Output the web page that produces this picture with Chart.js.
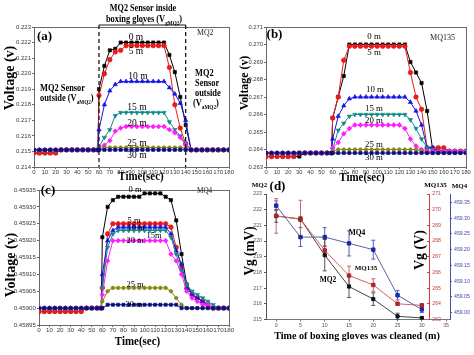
<!DOCTYPE html>
<html><head><meta charset="utf-8">
<script src="https://cdn.jsdelivr.net/npm/chart.js@4.4.1/dist/chart.umd.min.js"></script>
<style>
html,body{margin:0;padding:0;background:#fff;}
#wrap{position:relative;width:474px;height:355px;overflow:hidden;background:#fff;}
canvas{position:absolute;left:0;top:0;}
</style></head><body>
<div id="wrap">
<canvas id="ca" width="474" height="355"></canvas>
<canvas id="cb" width="474" height="355"></canvas>
<canvas id="cc" width="474" height="355"></canvas>
<canvas id="cd" width="474" height="355"></canvas>
</div>
<script>
// ---------- DATA ----------
const cleanLabels = ['0 m','5 m','10 m','15 m','20 m','25 m','30 m'];
const timeSec = [0,5,10,15,20,25,30,35,40,45,50,55,59,60,65,70,75,80,85,90,95,100,105,110,115,120,125,130,135,140,145,150,155,160,165,170,175,180];
const timeTicks = [0,10,20,30,40,50,60,70,80,90,100,110,120,130,140,150,160,170,180];

// (a) MQ2 voltage (V)
const mq2_0m = [0.2149,0.2149,0.2149,0.2149,0.2149,0.2151,0.2151,0.2151,0.2151,0.2151,0.2151,0.2151,0.2151,0.2190,0.2205,0.2215,0.2216,0.2220,0.2220,0.2220,0.2220,0.2220,0.2220,0.2220,0.2220,0.2220,0.2212,0.2201,0.2185,0.2167,0.2151,0.2151,0.2151,0.2151,0.2151,0.2151,0.2151,0.2151];
const mq2_5m = [0.2149,0.2149,0.2149,0.2149,0.2149,0.2151,0.2151,0.2151,0.2151,0.2151,0.2151,0.2151,0.2151,0.2186,0.2200,0.2209,0.2214,0.2215,0.2218,0.2218,0.2218,0.2218,0.2218,0.2218,0.2218,0.2218,0.2204,0.2180,0.2165,0.2155,0.2151,0.2151,0.2151,0.2151,0.2151,0.2151,0.2151,0.2151];
const mq2_10m = [0.2151,0.2151,0.2151,0.2151,0.2151,0.2151,0.2151,0.2151,0.2151,0.2151,0.2151,0.2151,0.2151,0.2164,0.2180,0.2189,0.2193,0.2195,0.2195,0.2195,0.2195,0.2195,0.2195,0.2195,0.2195,0.2195,0.2191,0.2187,0.2181,0.2170,0.2151,0.2151,0.2151,0.2151,0.2151,0.2151,0.2151,0.2151];
const mq2_15m = [0.2151,0.2151,0.2151,0.2151,0.2151,0.2151,0.2151,0.2151,0.2151,0.2151,0.2151,0.2151,0.2151,0.2153,0.2159,0.2164,0.2173,0.2175,0.2175,0.2175,0.2175,0.2175,0.2175,0.2175,0.2175,0.2175,0.2169,0.2164,0.2160,0.2155,0.2151,0.2151,0.2151,0.2151,0.2151,0.2151,0.2151,0.2151];
const mq2_20m = [0.2151,0.2151,0.2151,0.2151,0.2151,0.2151,0.2151,0.2151,0.2151,0.2151,0.2151,0.2151,0.2151,0.2152,0.2154,0.2157,0.2163,0.2165,0.2166,0.2166,0.2166,0.2166,0.2166,0.2166,0.2166,0.2166,0.2164,0.2162,0.2159,0.2154,0.2151,0.2151,0.2151,0.2151,0.2151,0.2151,0.2151,0.2151];
const mq2_25m = [0.2151,0.2151,0.2151,0.2151,0.2151,0.2151,0.2151,0.2151,0.2151,0.2151,0.2151,0.2151,0.2151,0.2151,0.21525,0.21525,0.21525,0.21525,0.21525,0.21525,0.21525,0.21525,0.21525,0.21525,0.21525,0.21525,0.21525,0.21525,0.21525,0.2152,0.2151,0.2151,0.2151,0.2151,0.2151,0.2151,0.2151,0.2151];
const mq2_30m = [0.2151,0.2151,0.2151,0.2151,0.2151,0.2151,0.2151,0.2151,0.2151,0.2151,0.2151,0.2151,0.2151,0.2151,0.2151,0.2151,0.2151,0.2151,0.2151,0.2151,0.2151,0.2151,0.2151,0.2151,0.2151,0.2151,0.2151,0.2151,0.2151,0.2151,0.2151,0.2151,0.2151,0.2151,0.2151,0.2151,0.2151,0.2151];
const mq2Ticks = [0.214,0.215,0.216,0.217,0.218,0.219,0.220,0.221,0.222,0.223];

// (b) MQ135 voltage (V)
const mq135_0m = [0.2636,0.2636,0.2636,0.2636,0.2636,0.2636,0.2636,0.2638,0.2638,0.2638,0.2638,0.2638,0.2638,0.2658,0.2670,0.2682,0.2700,0.2700,0.2700,0.2700,0.2700,0.2700,0.2700,0.2700,0.2700,0.2700,0.2700,0.2690,0.2684,0.2678,0.2662,0.2640,0.2640,0.2639,0.2639,0.2639,0.2639,0.2639];
const mq135_5m = [0.2636,0.2636,0.2636,0.2636,0.2636,0.2636,0.2638,0.2638,0.2638,0.2638,0.2638,0.2638,0.2638,0.2658,0.2670,0.2691,0.2699,0.2699,0.2699,0.2699,0.2699,0.2699,0.2699,0.2699,0.2699,0.2699,0.2699,0.2684,0.2670,0.2663,0.2641,0.2641,0.2641,0.2641,0.2639,0.2639,0.2639,0.2639];
const mq135_10m = [0.2638,0.2638,0.2638,0.2638,0.2638,0.2638,0.2638,0.2638,0.2638,0.2638,0.2638,0.2638,0.2638,0.2646,0.2659,0.2665,0.2669,0.2670,0.2670,0.2670,0.2670,0.2670,0.2670,0.2670,0.2670,0.2670,0.2670,0.2667,0.2662,0.2654,0.2641,0.2641,0.2639,0.2639,0.2639,0.2639,0.2639,0.2639];
const mq135_15m = [0.2638,0.2638,0.2638,0.2638,0.2638,0.2638,0.2638,0.2638,0.2638,0.2638,0.2638,0.2638,0.2638,0.2640,0.2651,0.2655,0.2659,0.2660,0.2660,0.2660,0.2660,0.2660,0.2660,0.2660,0.2660,0.2660,0.2660,0.2657,0.2652,0.2646,0.2641,0.2640,0.2639,0.2639,0.2639,0.2639,0.2639,0.2639];
const mq135_20m = [0.2638,0.2638,0.2638,0.2638,0.2638,0.2638,0.2638,0.2638,0.2638,0.2638,0.2638,0.2638,0.2638,0.2641,0.2644,0.2649,0.2652,0.2654,0.2654,0.2654,0.2654,0.2654,0.2654,0.2654,0.2654,0.2654,0.2652,0.2646,0.2642,0.2640,0.2639,0.2639,0.2639,0.2639,0.2639,0.2639,0.2639,0.2639];
const mq135_25m = [0.2638,0.2638,0.2638,0.2638,0.2638,0.2638,0.2638,0.2638,0.2638,0.2638,0.2638,0.2638,0.2638,0.2639,0.2640,0.2640,0.2640,0.2640,0.2640,0.2640,0.2640,0.2640,0.2640,0.2640,0.2640,0.2640,0.2640,0.2640,0.2640,0.2639,0.2638,0.2638,0.2638,0.2638,0.2638,0.2638,0.2638,0.2638];
const mq135_30m = [0.2638,0.2638,0.2638,0.2638,0.2638,0.2638,0.2638,0.2638,0.2638,0.2638,0.2638,0.2638,0.2638,0.2638,0.2638,0.2638,0.2638,0.2638,0.2638,0.2638,0.2638,0.2638,0.2638,0.2638,0.2638,0.2638,0.2638,0.2638,0.2638,0.2638,0.2638,0.2638,0.2638,0.2638,0.2638,0.2638,0.2638,0.2638];
const mq135Ticks = [0.263,0.264,0.265,0.266,0.267,0.268,0.269,0.270,0.271];

// (c) MQ4 voltage (V)
const mq4_0m = [0.45899,0.45899,0.45899,0.45899,0.45899,0.45899,0.45899,0.45899,0.45899,0.45900,0.45900,0.45900,0.45900,0.45921,0.45930,0.45932,0.45933,0.45933,0.45933,0.45933,0.45933,0.45934,0.45934,0.45934,0.45934,0.45933,0.45932,0.45926,0.45916,0.45907,0.45904,0.45903,0.45902,0.45901,0.45900,0.45900,0.45900,0.45900];
const mq4_5m = [0.45899,0.45899,0.45899,0.45899,0.45899,0.45899,0.45899,0.45899,0.45899,0.45900,0.45900,0.45900,0.45900,0.45906,0.45922,0.45925,0.45925,0.45925,0.45925,0.45925,0.45925,0.45925,0.45925,0.45925,0.45925,0.45925,0.45924,0.45918,0.45912,0.45906,0.45904,0.45903,0.45902,0.45901,0.45900,0.45900,0.45900,0.45900];
const mq4_10m = [0.45900,0.45900,0.45900,0.45900,0.45900,0.45900,0.45900,0.45900,0.45900,0.45900,0.45900,0.45900,0.45900,0.45910,0.45920,0.45923,0.45924,0.45924,0.45924,0.45924,0.45924,0.45924,0.45924,0.45924,0.45924,0.45924,0.45922,0.45917,0.45913,0.45906,0.45904,0.45903,0.45902,0.45901,0.45900,0.45900,0.45900,0.45900];
const mq4_15m = [0.45900,0.45900,0.45900,0.45900,0.45900,0.45900,0.45900,0.45900,0.45900,0.45900,0.45900,0.45900,0.45900,0.45906,0.45918,0.45922,0.45923,0.45923,0.45923,0.45923,0.45923,0.45923,0.45923,0.45923,0.45923,0.45923,0.45921,0.45916,0.45911,0.45907,0.45905,0.45904,0.45903,0.45902,0.45901,0.45900,0.45900,0.45900];
const mq4_20m = [0.45900,0.45900,0.45900,0.45900,0.45900,0.45900,0.45900,0.45900,0.45900,0.45900,0.45900,0.45900,0.45900,0.45904,0.45914,0.45920,0.45920,0.45920,0.45920,0.45920,0.45920,0.45920,0.45920,0.45920,0.45920,0.45920,0.45916,0.45914,0.45910,0.45905,0.45903,0.45902,0.45901,0.45901,0.45900,0.45900,0.45900,0.45900];
const mq4_25m = [0.45900,0.45900,0.45900,0.45900,0.45900,0.45900,0.45900,0.45900,0.45900,0.45900,0.45900,0.45900,0.45900,0.45902,0.45905,0.45906,0.45906,0.45906,0.45906,0.45906,0.45906,0.45906,0.45906,0.45906,0.45906,0.45906,0.45905,0.45903,0.45901,0.45900,0.45900,0.45900,0.45900,0.45900,0.45900,0.45900,0.45900,0.45900];
const mq4_30m = [0.45900,0.45900,0.45900,0.45900,0.45900,0.45900,0.45900,0.45900,0.45900,0.45900,0.45900,0.45900,0.45900,0.45900,0.45901,0.45901,0.45901,0.45901,0.45901,0.45901,0.45901,0.45901,0.45901,0.45901,0.45901,0.45901,0.45901,0.45901,0.45900,0.45900,0.45900,0.45900,0.45900,0.45900,0.45900,0.45900,0.45900,0.45900];
const mq4Ticks = [0.45895,0.45900,0.45905,0.45910,0.45915,0.45920,0.45925,0.45930,0.45935];

// (d) Vg versus cleaning time
const cleanTime = [0,5,10,15,20,25,30];
const cleanTicks = [0,5,10,15,20,25,30,35];
const vgMQ2 = [221.6,221.4,219.1,217.1,216.3,215.2,215.1];
const vgMQ2Err = [0.4,0.15,1.0,0.7,0.4,0.2,0.05];
const vgMQ135 = [269.6,269.4,267.4,265.8,265.2,264.0,263.9];
const vgMQ135Err = [1.1,1.2,0.3,0.6,0.4,0.1,0.1];
const vgMQ4 = [459.34,459.24,459.24,459.22,459.20,459.055,459.01];
const vgMQ4Err = [0.015,0.03,0.03,0.04,0.03,0.015,0.01];
const vgMQ2Ticks = [215,216,217,218,219,220,221,222,223];
const vgMQ135Ticks = [263,264,265,266,267,268,269,270,271];
const vgMQ4Ticks = [459.00,459.05,459.10,459.15,459.20,459.25,459.30,459.35];

// ---------- STYLE ----------
const colors = ['#000000','#e81a1a','#1414e8','#128a8a','#ff1cff','#888810','#0a0a86'];
const shapes = ['rect','circle','triangle','triangle','rectRot','circle','rect'];
const rots = [0,0,0,180,0,0,0];
const radii = [2.3,2.3,2.5,2.5,2.4,1.8,2.2];
const SERIF = '"Liberation Serif","DejaVu Serif",serif';
const SANS = '"Liberation Sans",Arial,sans-serif';
const W = 474, H = 355;

function drawText(ctx, s, x, y, o) {
  ctx.save();
  ctx.translate(x, y);
  if (o.rot) ctx.rotate(o.rot);
  ctx.scale(o.sx || 1, 1);
  ctx.font = (o.b ? 'bold ' : '') + o.size + 'px ' + SERIF;
  ctx.fillStyle = o.color || '#000';
  ctx.textAlign = o.align || 'center';
  ctx.textBaseline = 'middle';
  ctx.fillText(s, 0, 0);
  ctx.restore();
}
function drawRich(ctx, parts, x, y, o) {
  ctx.save();
  ctx.translate(x, y);
  ctx.scale(o.sx || 1, 1);
  ctx.textBaseline = 'alphabetic';
  ctx.fillStyle = o.color || '#000';
  const fnt = (sub) => (o.b ? 'bold ' : '') + (sub ? o.size * 0.62 : o.size) + 'px ' + SERIF;
  let total = 0;
  parts.forEach(p => { ctx.font = fnt(p[1]); total += ctx.measureText(p[0]).width; });
  let cx = (o.align === 'left') ? 0 : -total / 2;
  const base = o.size * 0.33;
  parts.forEach(p => {
    ctx.font = fnt(p[1]);
    ctx.textAlign = 'left';
    ctx.fillText(p[0], cx, base + (p[1] ? o.size * 0.22 : 0));
    cx += ctx.measureText(p[0]).width;
  });
  ctx.restore();
}

const framePlugin = {
  id: 'frame',
  beforeDatasetsDraw(chart) {
    const {ctx, chartArea: a} = chart;
    ctx.save();
    ctx.strokeStyle = '#6a6a6a';
    ctx.lineWidth = 1;
    ctx.strokeRect(Math.round(a.left) + 0.5, Math.round(a.top) + 0.5, Math.round(a.right - a.left), Math.round(a.bottom - a.top));
    ctx.restore();
  }
};

function textPlugin(items, extra) {
  return {
    id: 'texts',
    afterDraw(chart) {
      const ctx = chart.ctx;
      if (extra) extra(chart);
      items.forEach(it => {
        if (it.rich) drawRich(ctx, it.rich, it.x, it.y, it);
        else drawText(ctx, it.t, it.x, it.y, it);
      });
    }
  };
}

function timeChart(id, series, yTicks, yDec, rect, yW, texts, extra, tickSize) {
  const datasets = [];
  for (let k = series.length - 1; k >= 0; k--) {
    datasets.push({
      label: cleanLabels[k],
      data: timeSec.map((t, i) => ({x: t, y: series[k][i]})),
      borderColor: colors[k],
      backgroundColor: colors[k],
      borderWidth: 1,
      pointStyle: shapes[k],
      pointRotation: rots[k],
      pointRadius: radii[k],
      pointBorderWidth: 0.6,
      pointBackgroundColor: colors[k],
      pointBorderColor: colors[k],
      tension: 0
    });
  }
  const tickFont = {size: tickSize || 6, family: SANS};
  return new Chart(document.getElementById(id), {
    type: 'line',
    data: {datasets},
    options: {
      responsive: false, animation: false, devicePixelRatio: 1,
      layout: {padding: {left: rect.l - yW, top: rect.t, right: W - rect.r, bottom: H - rect.b - 12}},
      plugins: {legend: {display: false}, tooltip: {enabled: false}},
      scales: {
        x: {
          type: 'linear', min: 0, max: 180,
          afterBuildTicks: s => { s.ticks = timeTicks.map(v => ({value: v})); },
          afterFit: s => { s.height = 12; },
          ticks: {font: tickFont, color: '#3a3a3a', padding: 0, maxRotation: 0, minRotation: 0, autoSkip: false, callback: v => String(v)},
          grid: {drawOnChartArea: false, tickLength: 2, color: '#666'},
          border: {display: false}
        },
        y: {
          type: 'linear', min: yTicks[0], max: yTicks[yTicks.length - 1],
          afterBuildTicks: s => { s.ticks = yTicks.map(v => ({value: v})); },
          afterFit: s => { s.width = yW; },
          ticks: {font: tickFont, color: '#3a3a3a', padding: 1, callback: v => Number(v).toFixed(yDec)},
          grid: {drawOnChartArea: false, tickLength: 2, color: '#666'},
          border: {display: false}
        }
      }
    },
    plugins: [framePlugin, textPlugin(texts, extra)]
  });
}

// ---------- (a) ----------
const curveA = 9.5;
timeChart('ca', [mq2_0m, mq2_5m, mq2_10m, mq2_15m, mq2_20m, mq2_25m, mq2_30m], mq2Ticks, 3,
  {l: 34, t: 27, r: 229, b: 167}, 34, [
  {t: 'MQ2 Sensor inside', x: 143, y: 8, size: 10.5, b: 1, sx: 0.78},
  {rich: [['boxing gloves (V', 0], ['gMQ2', 1], [')', 0]], x: 144, y: 19, size: 10.5, b: 1, sx: 0.8},
  {t: '(a)', x: 44.5, y: 37, size: 13, b: 1},
  {t: 'MQ2', x: 197, y: 33, size: 8.5, align: 'left', sx: 0.92, color: '#222'},
  {t: 'MQ2 Sensor', x: 40, y: 88, size: 10, b: 1, sx: 0.84, align: 'left'},
  {rich: [['outside (V', 0], ['aMQ2', 1], [')', 0]], x: 40, y: 98, size: 10, b: 1, sx: 0.84, align: 'left'},
  {t: 'MQ2', x: 195, y: 73, size: 10, b: 1, sx: 0.84, align: 'left'},
  {t: 'Sensor', x: 195, y: 83, size: 10, b: 1, sx: 0.84, align: 'left'},
  {t: 'outside', x: 195, y: 93, size: 10, b: 1, sx: 0.84, align: 'left'},
  {rich: [['(V', 0], ['aMQ2', 1], [')', 0]], x: 193, y: 103, size: 10, b: 1, sx: 0.84, align: 'left'},
  {t: '0 m', x: 136, y: 37, size: curveA},
  {t: '5 m', x: 136, y: 51, size: curveA},
  {t: '10 m', x: 138, y: 76, size: curveA},
  {t: '15 m', x: 137, y: 107, size: curveA},
  {t: '20 m', x: 137, y: 123, size: curveA},
  {t: '25 m', x: 137, y: 143, size: curveA},
  {t: '30 m', x: 137, y: 155, size: curveA},
  {t: 'Voltage (v)', x: 10, y: 78, size: 14, b: 1, rot: -Math.PI / 2},
  {t: 'Time(sec)', x: 141, y: 177, size: 13, b: 1, sx: 0.84}
], (chart) => {
  const ctx = chart.ctx, xs = chart.scales.x;
  const x1 = xs.getPixelForValue(60), x2 = xs.getPixelForValue(140);
  ctx.save();
  ctx.strokeStyle = '#1a1a1a';
  ctx.lineWidth = 1.3;
  ctx.setLineDash([4, 3]);
  [x1, x2].forEach(x => { ctx.beginPath(); ctx.moveTo(x, 25); ctx.lineTo(x, chart.chartArea.bottom); ctx.stroke(); });
  ctx.setLineDash([]);
  ctx.lineWidth = 1;
  ctx.beginPath(); ctx.moveTo(x1, 25); ctx.lineTo(x2, 25); ctx.stroke();
  ctx.beginPath(); ctx.moveTo(143, 25); ctx.lineTo(143, 21.5); ctx.stroke();
  ctx.restore();
});

// ---------- (b) ----------
const curveB = 8.8;
timeChart('cb', [mq135_0m, mq135_5m, mq135_10m, mq135_15m, mq135_20m, mq135_25m, mq135_30m], mq135Ticks, 3,
  {l: 266, t: 27, r: 466, b: 167}, 30, [
  {t: '(b)', x: 274.5, y: 35, size: 13, b: 1},
  {t: 'MQ135', x: 430, y: 38, size: 8.5, align: 'left', sx: 0.95, color: '#222'},
  {t: '0 m', x: 374, y: 37, size: curveB},
  {t: '5 m', x: 374, y: 53, size: curveB},
  {t: '10 m', x: 375, y: 90, size: curveB},
  {t: '15 m', x: 374, y: 109, size: curveB},
  {t: '20 m', x: 374, y: 121, size: curveB},
  {t: '25 m', x: 374, y: 145, size: curveB},
  {t: '30 m', x: 374, y: 158, size: curveB},
  {t: 'Voltage (v)', x: 244.5, y: 83, size: 12.5, b: 1, rot: -Math.PI / 2, sx: 0.95},
  {t: 'Time(sec)', x: 362, y: 178, size: 13, b: 1, sx: 0.84}
], null, 5.8);

// ---------- (c) ----------
const curveC = 8.5;
timeChart('cc', [mq4_0m, mq4_5m, mq4_10m, mq4_15m, mq4_20m, mq4_25m, mq4_30m], mq4Ticks, 5,
  {l: 39, t: 190, r: 229, b: 325}, 39, [
  {t: '(c)', x: 48, y: 191, size: 13, b: 1},
  {t: 'MQ4', x: 197, y: 191, size: 8, align: 'left', sx: 0.9, color: '#222'},
  {t: '0 m', x: 135, y: 190, size: curveC},
  {t: '5 m', x: 134, y: 221, size: curveC},
  {t: '10 m', x: 136, y: 228, size: curveC},
  {t: '15m', x: 154, y: 236, size: curveC},
  {t: '20 m', x: 135, y: 241, size: curveC},
  {t: '25 m', x: 135, y: 285, size: curveC},
  {t: '30 m', x: 134, y: 305, size: curveC},
  {t: 'Voltage (v)', x: 11, y: 265, size: 14, b: 1, rot: -Math.PI / 2},
  {t: 'Time(sec)', x: 137.5, y: 342, size: 13, b: 1, sx: 0.84}
], null, 6.2);

// ---------- (d) ----------
const errPlugin = {
  id: 'errbars',
  beforeDatasetsDraw(chart) {
    const ctx = chart.ctx, xs = chart.scales.x;
    chart.data.datasets.forEach(ds => {
      const ys = chart.scales[ds.yAxisID];
      ctx.save();
      ctx.strokeStyle = ds.errColor;
      ctx.lineWidth = 1;
      ds.data.forEach((p, i) => {
        const e = ds.errorBars[i];
        const x = xs.getPixelForValue(p.x);
        const y1 = ys.getPixelForValue(p.y - e), y2 = ys.getPixelForValue(p.y + e);
        ctx.beginPath();
        ctx.moveTo(x, y1); ctx.lineTo(x, y2);
        ctx.moveTo(x - 2, y1); ctx.lineTo(x + 2, y1);
        ctx.moveTo(x - 2, y2); ctx.lineTo(x + 2, y2);
        ctx.stroke();
      });
      ctx.restore();
    });
  }
};
// labels of the inner (red) axis, placed to the right of its axis line
const redAxisLabels = {
  id: 'redAxisLabels',
  afterDraw(chart) {
    const ctx = chart.ctx, ys = chart.scales.yR;
    const ax = chart.scales.x.getPixelForValue(31.64);
    ctx.save();
    ctx.font = '5.2px ' + SANS;
    ctx.fillStyle = '#c03a3a';
    ctx.textAlign = 'left';
    ctx.textBaseline = 'middle';
    ys.ticks.forEach(t => ctx.fillText(String(t.value), ax + 2.5, ys.getPixelForValue(t.value)));
    ctx.restore();
  }
};
const dFont = {size: 5.2, family: SANS};
new Chart(document.getElementById('cd'), {
  type: 'line',
  data: {datasets: [
    {label: 'MQ4', yAxisID: 'yB', data: cleanTime.map((t, i) => ({x: t, y: vgMQ4[i]})), errorBars: vgMQ4Err, errColor: '#5560b8',
     borderColor: '#56649a', borderWidth: 1, pointStyle: 'rect', pointRadius: 2.4, pointBackgroundColor: '#1a28b0', pointBorderColor: '#1a28b0', tension: 0},
    {label: 'MQ135', yAxisID: 'yR', data: cleanTime.map((t, i) => ({x: t, y: vgMQ135[i]})), errorBars: vgMQ135Err, errColor: '#c86a6a',
     borderColor: '#d26060', borderWidth: 1, pointStyle: 'rect', pointRadius: 2.4, pointBackgroundColor: '#b42222', pointBorderColor: '#b42222', tension: 0},
    {label: 'MQ2', yAxisID: 'y', data: cleanTime.map((t, i) => ({x: t, y: vgMQ2[i]})), errorBars: vgMQ2Err, errColor: '#555',
     borderColor: '#444', borderWidth: 1, pointStyle: 'rect', pointRadius: 2.2, pointBackgroundColor: '#111', pointBorderColor: '#111', tension: 0}
  ]},
  options: {
    responsive: false, animation: false, devicePixelRatio: 1,
    layout: {padding: {left: 236, top: 194, right: 2, bottom: 23.5}},
    plugins: {legend: {display: false}, tooltip: {enabled: false}},
    scales: {
      x: {
        type: 'linear', min: -2.1, max: 35.8,
        afterBuildTicks: s => { s.ticks = cleanTicks.map(v => ({value: v})); },
        afterFit: s => { s.height = 12; },
        ticks: {font: dFont, color: '#555', padding: 1, maxRotation: 0, autoSkip: false, callback: v => String(v)},
        grid: {drawOnChartArea: false, tickLength: 2, color: '#777'},
        border: {display: true, color: '#777'}
      },
      y: {
        type: 'linear', position: 'left', min: 215, max: 223,
        afterBuildTicks: s => { s.ticks = vgMQ2Ticks.map(v => ({value: v})); },
        afterFit: s => { s.width = 30; },
        ticks: {font: dFont, color: '#555', padding: 2, callback: v => String(v)},
        grid: {drawOnChartArea: false, tickLength: 2, color: '#555'},
        border: {display: true, color: '#555'}
      },
      yR: {
        type: 'linear', axis: 'y', position: {x: 31.64}, min: 263, max: 271,
        afterBuildTicks: s => { s.ticks = vgMQ135Ticks.map(v => ({value: v})); },
        ticks: {display: false},
        grid: {drawOnChartArea: false, tickLength: 2, color: '#d04040'},
        border: {display: true, color: '#d43a3a'}
      },
      yB: {
        type: 'linear', position: 'right', min: 458.978, max: 459.377,
        afterBuildTicks: s => { s.ticks = vgMQ4Ticks.map(v => ({value: v})); },
        afterFit: s => { s.width = 22; },
        ticks: {font: dFont, color: '#3a46a8', padding: 2, callback: v => Number(v).toFixed(2)},
        grid: {drawOnChartArea: false, tickLength: 2, color: '#4050b0'},
        border: {display: true, color: '#4050b0'}
      }
    }
  },
  plugins: [errPlugin, redAxisLabels, textPlugin([
    {t: 'MQ2', x: 259.5, y: 185, size: 7, b: 1},
    {t: '(d)', x: 277.5, y: 187, size: 13, b: 1},
    {t: 'MQ135', x: 435.5, y: 185, size: 7, b: 1},
    {t: 'MQ4', x: 459.5, y: 186, size: 7, b: 1},
    {t: 'Vg (mV)', x: 250, y: 251, size: 14, b: 1, rot: -Math.PI / 2, sx: 0.95},
    {t: 'Vg (V)', x: 420, y: 250, size: 14, b: 1, rot: -Math.PI / 2},
    {t: 'MQ4', x: 357, y: 233, size: 7.5, b: 1},
    {t: 'MQ135', x: 366, y: 268, size: 7, b: 1},
    {t: 'MQ2', x: 328, y: 280, size: 7.5, b: 1},
    {t: 'Time of boxing gloves was cleaned (m)', x: 357, y: 336, size: 11, b: 1, sx: 0.92}
  ])]
});
</script>
</body></html>
